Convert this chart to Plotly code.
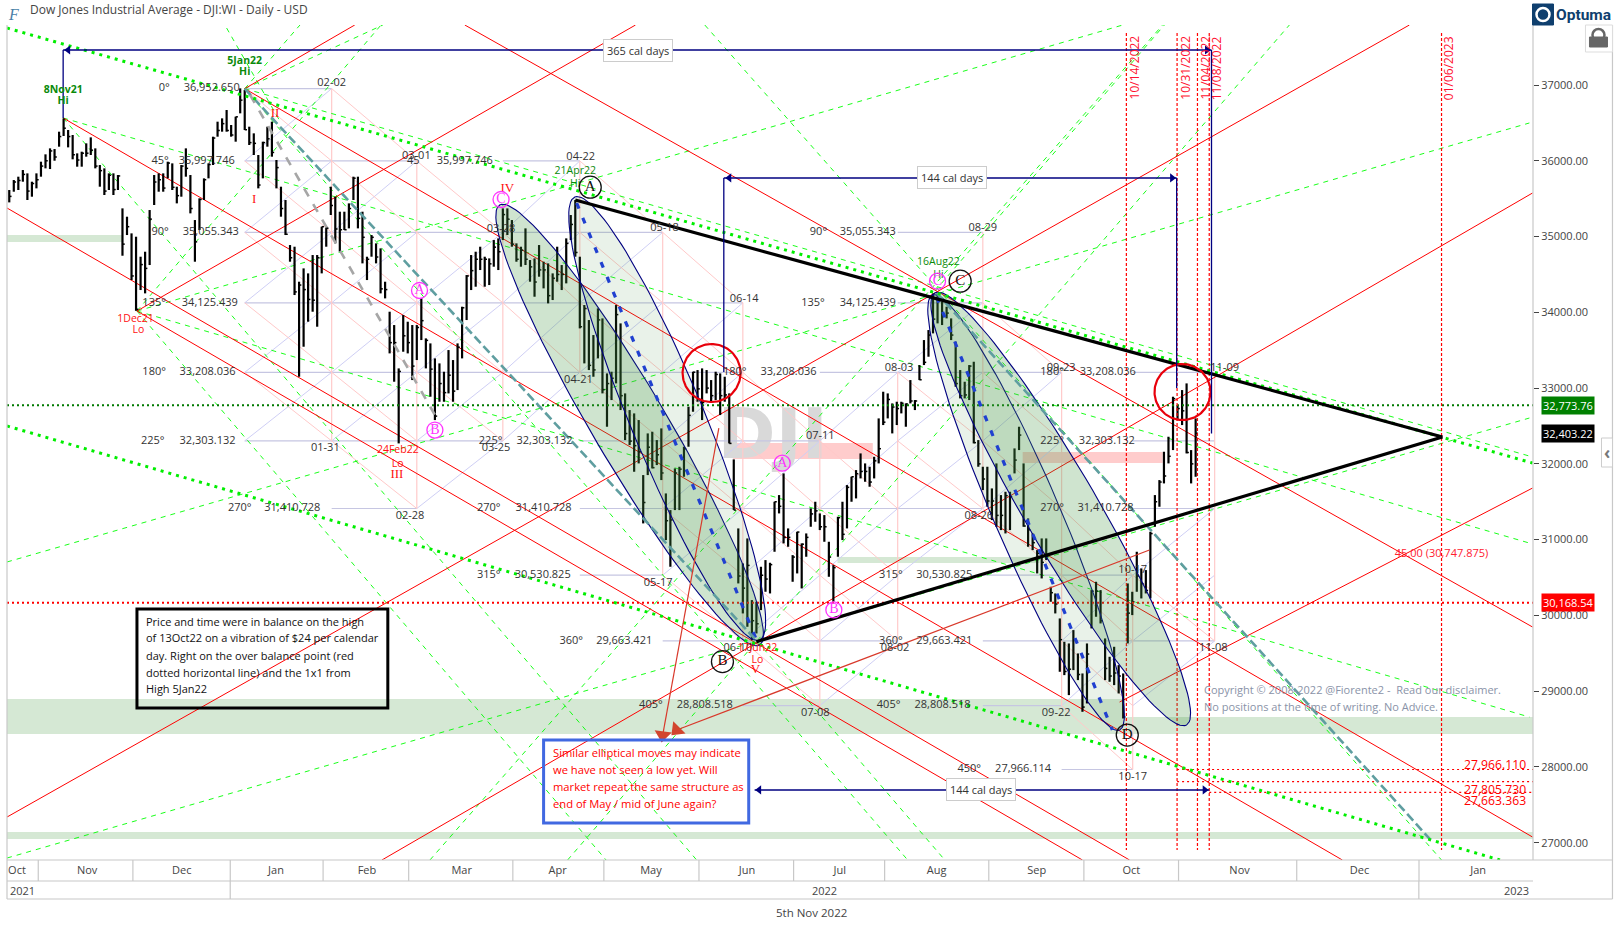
import math
import plotly.graph_objects as go

# daily bars, session 0 is the first bar on the chart
highs = [35614,35746,35790,35878,35834,35724,35834,35988,36085,36164,36155,36384,36560,36406,36340,36098,36120,36230,36309,36164,
35944,35900,35834,35834,35812,35372,35262,35042,34998,34734,34800,35350,35812,35834,35834,35988,35966,35658,35944,36164,
35812,35218,35504,35768,35966,36318,36516,36560,36670,36472,36582,36956,36934,36450,36362,36076,36252,36450,36516,36010,
35658,35482,34888,34866,34404,34580,34514,34756,34756,35130,35130,35658,35526,35328,35328,35438,35790,35790,35328,34734,
35020,34910,34844,34404,34008,33832,33260,33964,33876,33832,33832,34184,33656,33590,33392,33326,33216,33502,33370,33590,
34074,34492,34756,34800,34866,34734,34712,34954,34976,35372,35372,35218,34910,34866,35108,34690,34712,34888,34668,34646,
34514,34866,34624,34976,35284,35482,34734,34096,33898,33700,34052,33920,33194,33216,34096,33854,32930,32710,32666,32578,
31852,32402,32424,32314,32468,31610,31390,31940,31962,32226,32754,33216,33238,33260,33238,33106,33216,33194,33150,32930,
32059,31148,30686,31016,30202,30180,30642,30730,30695,31500,31588,31874,31148,30796,31104,30950,31082,31412,31500,31346,
31324,30972,30664,31302,31500,31720,31830,31918,32138,32006,31962,32094,32600,32952,32930,32798,32820,32820,32798,33106,
32842,33304,33634,33766,34250,34250,34140,34074,33920,33612,33238,33084,33304,33348,32314,31962,31962,31676,32006,31588,
31632,31632,32204,32490,32006,31280,31082,30862,31016,31016,30378,30290,29960,29652,29630,29806,29498,29234,29630,30334,
30444,30334,29696,29454,29586,29344,29234,30422,30312,30840,30620,30598,31104,31588,31786,32160,32358,32886,32776,32974,
33062,32182,32600]
lows = [35451,35592,35614,35724,35482,35526,35636,35790,35900,35891,36001,36186,36327,36177,36019,35922,35922,36054,36076,35900,
35658,35548,35614,35548,35614,34747,35020,34426,34020,34294,34250,34624,35416,35592,35592,35768,35614,35438,35526,35790,
35306,34668,35086,35482,35768,35944,36318,36384,36384,36318,36252,36626,36406,36208,36076,35636,35768,36186,36054,35636,
35262,35020,34668,34228,33150,33546,33876,34008,33810,34514,34866,35284,34910,34800,35086,35108,35482,35108,34646,34426,
34734,34646,34250,34184,33458,33084,32270,33480,33458,33106,33370,33634,33260,32886,32578,32820,32820,32930,32820,32974,
33392,33898,34294,34338,34558,34338,34360,34602,34558,34954,35020,34866,34668,34602,34624,34404,34206,34470,34316,34118,
34162,34404,34294,34382,34954,34734,33788,33326,33238,33150,33392,32930,32490,32842,33062,32710,32314,32248,31896,32006,
31214,31852,31940,31984,31786,30994,30642,31390,31390,31830,32226,32688,32820,32578,32930,32820,32842,32644,32820,32270,
31390,30422,30026,29850,29674,29762,30070,30312,30290,30840,31346,30950,30906,30444,30554,30356,30774,31170,31236,31126,
30972,30510,30180,30774,30994,31148,31500,31544,31808,31764,31698,31808,32006,32512,32600,32402,32512,32666,32490,32798,
32710,33106,33304,33414,33722,33854,33832,33920,33634,33018,32864,32864,32842,32270,31962,31654,31434,31258,31170,31126,
31082,31126,31874,32182,31170,30906,30862,30554,30488,30730,30180,30026,29256,29212,28948,29278,29146,28728,28838,29828,
29982,29894,29146,29124,29080,28970,28640,29630,30004,30312,30224,30290,30224,31170,31434,31742,32006,32182,32578,32512,
32138,31742,31830]
closes = [35530,35720,35740,35820,35600,35700,35750,35930,36000,36130,36050,36320,36430,36320,36080,36010,36100,36100,36140,35930,
35870,35600,35810,35620,35800,34900,35130,34480,34040,34630,34580,35230,35720,35750,35640,35970,35650,35540,35930,35900,
35370,34930,35490,35750,35950,36300,36400,36490,36400,36340,36580,36800,36410,36240,36230,35680,36240,36290,36110,35910,
35370,35030,34720,34270,34360,34300,34170,34160,34720,35130,35110,35410,35100,35090,35090,35370,35770,35240,34990,34700,
34990,34730,34310,34300,33600,33600,33220,33690,33600,33290,33800,33890,33630,33250,32630,33060,32940,33170,32960,33540,
34060,34480,34550,34700,34700,34700,34640,34860,34800,35290,35230,34900,34700,34820,34700,34600,34400,34560,34560,34220,
34450,34500,34500,34910,35160,34790,33810,34050,33300,33240,33900,32980,33060,33130,33970,32900,32400,32300,32240,32160,
31490,32220,31950,32120,31880,31250,31260,31880,31930,32200,32640,33210,32990,32810,33000,32900,33180,32900,32910,32270,
31390,30520,30360,30660,29930,29890,30530,30480,30670,31500,31440,31030,31030,30770,31100,30940,31030,31340,31380,31170,
31170,30770,30630,31290,31070,31690,31830,31870,31900,31900,31760,32040,32200,32550,32850,32750,32730,32800,32790,32830,
32830,33110,33340,33700,33910,34150,33980,33990,33700,33060,32900,32910,33290,32280,32000,31800,31510,31510,31320,31320,
31580,31570,32050,32380,31180,31130,30960,30820,30700,30780,30300,30150,29680,29260,29290,29680,29220,28790,29490,30320,
30320,29930,29300,29200,29240,29200,28660,30030,30180,30520,30420,30330,31080,31500,31760,31840,32100,32860,32730,32700,
32150,32000,32403]

price_ticks = [27000,28000,29000,30000,31000,32000,33000,34000,35000,36000,37000]
month_labels = ["Oct","Nov","Dec","Jan","Feb","Mar","Apr","May","Jun","Jul","Aug","Sep","Oct","Nov","Dec","Jan"]
month_centers = [1.7,17.2,38.1,58.9,79,99.9,121.1,141.7,162.9,183.4,204.8,226.9,247.8,271.7,298.2,324.4]
month_starts = [6.4,27.3,48.8,69.3,88.2,111.2,131.3,152.3,173.2,193.3,216.3,237.3,258.2,284.3,311.3]

# gann box price levels and time nodes
gann_levels = [36952.65,35997.746,35055.343,34125.439,33208.036,32303.132,31410.728,30530.825,29663.421,28808.518,27966.114]
gann_times = [52,71.2,90,109,126,144.3,162,179,196.2,215,232.4,248.1,266.2]
gann_top = [0,0,1,2,1,2,3,5,4,2,4,7,4]
gann_bot = [5,5,6,5,4,7,8,9,8,6,9,10,8]
gann_rows = [(0,0,1),(1,0,2),(1,3,4),(2,0,5),(2,8,9),(3,0,6),(3,8,9),(4,0,6),(4,7,10),(4,11,12),(5,0,3),(5,4,7),(5,11,12),
             (6,1,2),(6,4,9),(6,11,12),(7,4,5),(7,9,11),(8,5,8),(8,9,12),(9,6,7),(9,9,10),(10,10,11)]

red_lines = [(11.9,36565,294.4,26772),(52,36952,336.4,27075),(100.6,37792,336.4,29847),(-0.5,35377,247.4,26772),
             (28.2,34017,237,26772),(28.2,34017,138.3,37792),(52,36952,76.3,37792),(-0.5,27339,309.2,37792),
             (82.3,26772,336.4,35575),(245.2,28857,336.4,31681)]
lime_lines = [(11.9,36565,335.7,30955),(11.9,36565,151.8,26772),(52,36952,198.4,26772),(28.2,34017,131.8,26772),
              (28.2,34017,82.1,37792),(52,36952,64.2,37792),(48,37752,60,36500),(52,36952,82.5,37792),
              (52,36952,336.4,32091),(28.2,34017,245.9,37792),(-0.5,26798,335.7,32605),(-0.5,30705,335.7,36499),
              (123.3,26772,282.7,37792),(92.9,26772,254.7,37792),(165.1,29663,206.6,26772),(153.6,37792,316.3,26772),
              (204.4,34281,255.1,37792),(28.2,34017,335.7,28659)]
lime_thick = [(-0.5,37752,336.4,32011),(-0.5,32500,329.2,26772)]
teal_lines = [(52,36952,165.1,29663),(204.8,34255,314.3,27010)]
gray_line = (53.2,36868,94.4,32605)
blue_lines = [(125.3,35443,165.1,29663),(204.8,34202,243.6,28488)]
black_lines = [(125,35482,316.5,32354),(165,29653,316.5,32354)]
red_arrows = [(156.7,32473,144.3,28421),(251.8,30863,147.4,28488)]

# ellipses: two tips in chart units plus half width in pixels
ellipses = [(108.3,35416,165.7,29609,37,"rgba(70,150,70,0.26)"),(124.9,35522,165.7,29675,37,"rgba(70,150,70,0.12)"),
            (203.9,34229,245.2,28487,33,"rgba(70,150,70,0.12)"),(204.4,34255,260,28554,37,"rgba(70,150,70,0.26)")]
circles = [(155.1,33199,29),(259.1,32948,28)]

green_bands = [(-0.5,246.3,28659,28897),(-0.5,336.5,28435,28659),(-0.5,336.5,27049,27141),(-0.5,24.9,34928,35020),(182.9,227.5,30692,30771)]
pink_bands = [(159.8,190.7,32064,32275),(223.8,254.7,32011,32157)]

time_lines = [246.7,257.9,262.4,265,316.3]
time_names = ["10/14/2022","10/31/2022","11/04/2022","11/08/2022","01/06/2023"]
time_name_x = [248.5,259.8,264.2,266.8,318]

level_labels = [("0°",0,34.2,44.7),("45°",1,33.3,43.6),("90°",2,33.3,44.5),("135°",3,32,44.3),("180°",4,32,43.8),("225°",5,31.7,43.8),
                ("270°",6,50.9,62.5),("45",1,89.2,100.6),("225°",5,106.3,118.2),("270°",6,105.9,118),("315°",7,105.9,117.8),
                ("360°",8,124.1,135.8),("405°",9,141.7,153.6),("180°",4,160.2,172.1),("90°",2,178.7,189.6),("135°",3,177.5,189.6),
                ("180°",4,230.3,242.6),("225°",5,230.3,242.4),("270°",6,230.3,242.1),("315°",7,194.7,206.5),("360°",8,194.7,206.5),
                ("405°",9,194.2,206.1),("450°",10,212,223.9)]
date_labels = [("02-02",71.2,37017),("03-01",89.9,36062),("03-28",108.6,35093),("04-22",126.2,36048),("05-18",144.7,35107),
               ("06-14",162.3,34179),("07-11",179.1,32364),("08-03",196.5,33265),("08-29",215,35107),("09-23",232.3,33265),
               ("10-17",248.1,30590),("11-09",268.4,33265),("01-31",69.8,32200),("02-28",88.5,31314),("03-25",107.5,32200),
               ("04-21",125.7,33101),("05-17",143.3,30427),("06-10",160.9,29567),("07-08",178,28708),("08-02",195.6,29567),
               ("08-26",214.1,31314),("09-22",231.2,28708),("10-17",248.1,27862),("11-08",265.9,29567)]
hi_labels = [("<b>8Nov21</b>",11.9,36935),("<b>Hi</b>",11.9,36785),("<b>5Jan22</b>",52,37317),("<b>Hi</b>",52,37167),("21Apr22",125,35857),("Hi",125,35693),("16Aug22",205.2,34656),("Hi",205.2,34493)]
lo_labels = [("1Dec21",27.9,33906),("Lo",28.5,33756),("24Feb22",85.8,32173),("Lo",85.8,31996),("17Jun22",165.2,29567),("Lo",165.2,29404)]
roman_labels = [("I",54.1,35489),("II",58.7,36621),("III",85.6,31859),("IV",110,35625),("V",164.8,29281)]
pink_marks = [("A",90.6,34288),("B",94,32446),("C",108.6,35489),("A",170.7,32009),("B",182.1,30072),("C",205,34411)]
black_marks = [("A",128.3,35652),("B",157.5,29390),("C",210,34411),("D",246.9,28421)]
note_black = ["Price and time were in balance on the high","of 13Oct22 on a vibration of $24 per calendar",
              "day. Right on the over balance point (red","dotted horizontal line) and the 1x1 from","High 5Jan22"]
note_black_y = [29926,29702,29477,29253,29029]
note_red = ["Similar elliptical moves may indicate","we have not seen a low yet. Will",
            "market repeat the same structure as","end of May / mid of June again?"]
note_red_y = [28197,27973,27748,27524]
price_tags = [(32773.76,"32,773.76","#008000"),(32403.22,"32,403.22","#000000"),(30168.54,"30,168.54","#ff0000")]

FONT = "Open Sans"
X_RANGE = [-0.5,336.5]
Y_RANGE = [26772,37792]
PX_PER_X = 4.53
PX_PER_Y = 0.07577


def xp(px):
    return (px-7)/1526.5


def yp(py):
    return (860-py)/835


def segments(items):
    xs, ys = [], []
    for a in items:
        xs += [a[0],a[2],None]
        ys += [a[1],a[3],None]
    return xs, ys


def add_lines(items, color, width, dash="solid"):
    xs, ys = segments(items)
    fig.add_trace(go.Scatter(x=xs, y=ys, mode="lines", line=dict(color=color, width=width, dash=dash), hoverinfo="skip"))


def add_text(items, color, size, family=FONT):
    fig.add_trace(go.Scatter(x=[a[1] for a in items], y=[a[2] for a in items], text=[a[0] for a in items], mode="text",
                             textposition="middle center", textfont=dict(color=color, size=size, family=family),
                             cliponaxis=False, hoverinfo="skip"))


def ellipse_points(x0, y0, x1, y1, half_width):
    # work in pixels so the shape is not skewed by the axis scales
    dx = (x1-x0)*PX_PER_X
    dy = (y1-y0)*PX_PER_Y
    length = math.hypot(dx, dy)
    ux, uy = dx/length, dy/length
    cx, cy = (x0+x1)/2, (y0+y1)/2
    xs, ys = [], []
    for k in range(121):
        t = 2*math.pi*k/120
        a = math.cos(t)*length/2
        b = math.sin(t)*half_width
        xs.append(cx+(a*ux-b*uy)/PX_PER_X)
        ys.append(cy+(a*uy+b*ux)/PX_PER_Y)
    return xs, ys


fig = go.Figure()

# watermark
fig.add_trace(go.Scatter(x=[168.6], y=[32315], text=["DJI"], mode="text", textposition="middle center",
                         textfont=dict(size=70, color="#d9d9d9", family="DejaVu Sans", weight="bold"), hoverinfo="skip"))

# gann box grid
row_x, row_y = [], []
for lev, t0, t1 in gann_rows:
    row_x += [gann_times[t0],gann_times[t1],None]
    row_y += [gann_levels[lev],gann_levels[lev],None]
fig.add_trace(go.Scatter(x=row_x, y=row_y, mode="lines", line=dict(color="#c6c6e2", width=1.2), hoverinfo="skip"))

pink, lav, vert = [], [], []
for k in range(len(gann_times)-1):
    for j in range(10):
        if gann_top[k] <= j <= gann_bot[k] and gann_top[k+1] <= j+1 <= gann_bot[k+1]:
            pink.append((gann_times[k],gann_levels[j],gann_times[k+1],gann_levels[j+1]))
        if gann_top[k] <= j+1 <= gann_bot[k] and gann_top[k+1] <= j <= gann_bot[k+1]:
            lav.append((gann_times[k],gann_levels[j+1],gann_times[k+1],gann_levels[j]))
for k in range(1,len(gann_times)):
    vert.append((gann_times[k],gann_levels[gann_top[k]],gann_times[k],gann_levels[gann_bot[k]]))
add_lines(lav,"#cfcff5",1)
add_lines(pink,"#ffc9c9",1)
add_lines(vert,"#ffcaca",1.2)

add_lines(lime_lines,"#00ff00",0.9,"5px,5px")
add_lines(red_lines,"#ff0000",1)

# bars
bar_x, bar_y, tick_x, tick_y = [], [], [], []
for i in range(len(highs)):
    bar_x += [i,i,None]
    bar_y += [lows[i],highs[i],None]
    tick_x += [i,i+0.5,None]
    tick_y += [closes[i],closes[i],None]
fig.add_trace(go.Scatter(x=bar_x, y=bar_y, mode="lines", line=dict(color="#000000", width=2.2), hoverinfo="skip"))
fig.add_trace(go.Scatter(x=tick_x, y=tick_y, mode="lines", line=dict(color="#000000", width=1.5), hoverinfo="skip"))

# horizontal balance lines
add_lines([(X_RANGE[0],32773.76,X_RANGE[1],32773.76)],"#007a00",2,"2px,3px")
add_lines([(X_RANGE[0],30168.54,X_RANGE[1],30168.54)],"#ff0000",2,"2px,3px")
add_lines([(257.9,27966.11,X_RANGE[1],27966.11),(257.9,27805.73,X_RANGE[1],27805.73),(265,27663.363,X_RANGE[1],27663.363)],"#ff0000",1.2,"2px,3px")
add_lines([(v,37687,v,26904) for v in time_lines],"#ff0000",1.2,"3px,2px")

# ellipses over the bars
for x0,y0,x1,y1,hw,fill in ellipses:
    ex, ey = ellipse_points(x0,y0,x1,y1,hw)
    fig.add_trace(go.Scatter(x=ex, y=ey, mode="lines", fill="toself", fillcolor=fill, line=dict(color="#000080", width=1.1), hoverinfo="skip"))

add_lines(blue_lines,"#2040d0",3.2,"6px,10px")
add_lines(teal_lines,"#5f9ea0",2.6,"9px,4px")
add_lines([gray_line],"#a6a6a6",2.6,"9px,9px")
add_lines(lime_thick,"#00ee00",3,"3px,5px")
add_lines(black_lines,"#000000",3.2)
add_lines(red_arrows,"#d8392b",1.2)
fig.add_trace(go.Scatter(x=[a[2] for a in red_arrows], y=[a[3] for a in red_arrows], mode="markers",
                         marker=dict(symbol="triangle-down", size=15, color="#d2452e", angle=[8,45]), hoverinfo="skip"))

for x0,y0,r in circles:
    ex, ey = ellipse_points(x0-r/PX_PER_X,y0,x0+r/PX_PER_X,y0,r)
    fig.add_trace(go.Scatter(x=ex, y=ey, mode="lines", line=dict(color="#e8000b", width=2.2), hoverinfo="skip"))

# cal day brackets
navy = [(11.9,36565,11.9,37462),(11.9,37462,265.5,37462),(265.5,37462,265.5,32400),
        (157.8,33212,157.8,35773),(157.8,35773,257.8,35773),(257.8,35773,257.8,33000),
        (164.6,27696,265,27696)]
add_lines(navy,"#000080",1.3)
fig.add_trace(go.Scatter(x=[13,159,165.6], y=[37462,35773,27696], mode="markers", marker=dict(symbol="triangle-left", size=8, color="#000080"), hoverinfo="skip"))
fig.add_trace(go.Scatter(x=[264.5,256.8,264], y=[37462,35773,27696], mode="markers", marker=dict(symbol="triangle-right", size=8, color="#000080"), hoverinfo="skip"))

# texts
angle_items = [(a[0],a[2],gann_levels[a[1]]) for a in level_labels]
value_items = [("{:,.3f}".format(gann_levels[a[1]]),a[3],gann_levels[a[1]]) for a in level_labels]
add_text(angle_items,"#333333",11)
add_text(value_items,"#333333",11)
add_text(date_labels,"#333333",11)
add_text(hi_labels,"#0a8a0a",10.5)
add_text(lo_labels,"#ff1010",10.5)
add_text(roman_labels,"#ff1010",13,"Liberation Serif")

for items,color,size,border in [(pink_marks,"#ff33ff",14,16),(black_marks,"#111111",15,22)]:
    fig.add_trace(go.Scatter(x=[a[1] for a in items], y=[a[2] for a in items], text=[a[0] for a in items], mode="markers+text",
                             textposition="middle center", textfont=dict(color=color, size=size, family="Liberation Serif"),
                             marker=dict(symbol="circle-open", size=border, color=color, line=dict(width=1.3, color=color)), hoverinfo="skip"))

add_text([("45.00 (30,747.875)",316.3,30809)],"#ff2030",11)

annotations = []
for t,y in zip(note_black,note_black_y):
    annotations.append(dict(x=29.7,y=y,text=t,xanchor="left",showarrow=False,font=dict(size=11,color="#111111")))
for t,y in zip(note_red,note_red_y):
    annotations.append(dict(x=119.6,y=y,text=t,xanchor="left",showarrow=False,font=dict(size=11.2,color="#ff0000")))
for t,x,y in [("Copyright © 2008-2022 @Fiorente2 -  Read our disclaimer.",263.5,29028),("No positions at the time of writing. No Advice.",263.5,28804)]:
    annotations.append(dict(x=x,y=y,text=t,xanchor="left",showarrow=False,font=dict(size=11,color="#8a93a8")))
for t,x,y in [("27,966.110",335.3,28039),("27,805.730",335.3,27696),("27,663.363",335.3,27554)]:
    annotations.append(dict(x=x,y=y,text=t,xanchor="right",showarrow=False,font=dict(size=12.2,color="#ff0000")))
for t,x,y in zip(time_names,time_name_x,[37225]*5):
    annotations.append(dict(x=x,y=y,text=t,textangle=-90,showarrow=False,font=dict(size=12,color="#ff1030")))
for t,x,y in [("365 cal days",138.8,37462),("144 cal days",208.1,35773),("144 cal days",214.7,27696)]:
    annotations.append(dict(x=x,y=y,text=t,showarrow=False,bgcolor="#ffffff",bordercolor="#cccccc",borderwidth=1,borderpad=3,font=dict(size=11,color="#333333")))
for p,t,c in price_tags:
    annotations.append(dict(xref="paper",x=xp(1568.5),xanchor="center",y=p,yanchor="middle",text=t,showarrow=False,bgcolor=c,borderpad=1,font=dict(size=11,color="#ffffff")))


def chrome_text(px, py, text, size, color, xanchor="center", family=FONT):
    annotations.append(dict(xref="paper",yref="paper",x=xp(px),y=yp(py),xanchor=xanchor,yanchor="middle",text=text,showarrow=False,
                            font=dict(size=size,color=color,family=family)))


chrome_text(28,10,"Dow Jones Industrial Average - DJI:WI - Daily - USD",12,"#444444","left")
chrome_text(14,15,"<i>F</i>",16,"#4a7fa8","center","Liberation Serif")
chrome_text(1584,15,"<b>Optuma</b>",15.5,"#0f3f6e","center","Roboto")
chrome_text(1607.5,452,"<b>‹</b>",17,"#777777")
chrome_text(8,890,"2021",11,"#444444","left")
chrome_text(825,890,"2022",11,"#444444")
chrome_text(1531,890,"2023",11,"#444444","right")
chrome_text(812,913,"5th Nov 2022",11.5,"#444444")

shapes = []
for x0,x1,y0,y1 in green_bands:
    shapes.append(dict(type="rect",x0=x0,x1=x1,y0=y0,y1=y1,fillcolor="#d5e8d4",line_width=0,layer="below"))
for x0,x1,y0,y1 in pink_bands:
    shapes.append(dict(type="rect",x0=x0,x1=x1,y0=y0,y1=y1,fillcolor="#ffcccc",line_width=0,layer="below"))
shapes.append(dict(type="rect",x0=28.2,x1=83.6,y0=28778,y1=30084,line=dict(color="#000000",width=3)))
shapes.append(dict(type="rect",x0=118,x1=163.3,y0=27260,y1=28356,line=dict(color="#4169e1",width=3)))


def frame(x0, y0, x1, y1, color="#c8c8c8", width=1.2, fill=None):
    shapes.append(dict(type="rect" if fill or (x0 != x1 and y0 != y1) else "line",xref="paper",yref="paper",x0=xp(x0),x1=xp(x1),y0=yp(y0),y1=yp(y1),
                       line=dict(color=color,width=width),fillcolor=fill))


frame(7,25,7,899)
frame(1533.5,25,1533.5,860)
frame(1613,25,1613,899)
frame(7,860,1613,860)
frame(7,881,1533.5,881)
frame(7,899,1613,899)
for v in month_starts:
    px_v = 9.27+v*PX_PER_X
    frame(px_v,860,px_v,881)
for px_v in [230.3,1419.3]:
    frame(px_v,881,px_v,899)

# logo, lock and side tab
frame(1533,4,1554,25,"#0f3f6e",1,"#0f3f6e")
shapes.append(dict(type="circle",xref="paper",yref="paper",x0=xp(1537),x1=xp(1550),y0=yp(8),y1=yp(21),line=dict(color="#ffffff",width=2.5)))
frame(1586,25,1613,52,"#dddddd",1,"#ffffff")
shapes.append(dict(type="circle",xref="paper",yref="paper",x0=xp(1593),x1=xp(1605),y0=yp(29),y1=yp(41),line=dict(color="#666666",width=2.5)))
frame(1590,37,1608,47,"#666666",1,"#666666")
frame(1602,438,1613,467,"#cccccc",1,"#ffffff")

fig.update_layout(
    width=1620, height=932, margin=dict(l=7,r=86.5,t=25,b=72,autoexpand=False),
    paper_bgcolor="#ffffff", plot_bgcolor="#ffffff", showlegend=False,
    font=dict(family=FONT,size=11,color="#333333"),
    annotations=annotations, shapes=shapes, hovermode=False,
    xaxis=dict(range=X_RANGE,showgrid=False,zeroline=False,tickmode="array",tickvals=month_centers,ticktext=month_labels,ticks="",
               ticklabelstandoff=2,tickfont=dict(size=11,color="#444444")),
    yaxis=dict(range=Y_RANGE,side="right",showgrid=False,zeroline=False,tickmode="array",tickvals=price_ticks,ticks="outside",ticklen=5,
               tickcolor="#444444",tickformat=".2f",tickfont=dict(size=11,color="#444444")),
)

fig.write_html("out.html", post_script="document.body.style.margin='0';", config={"displayModeBar": False})
